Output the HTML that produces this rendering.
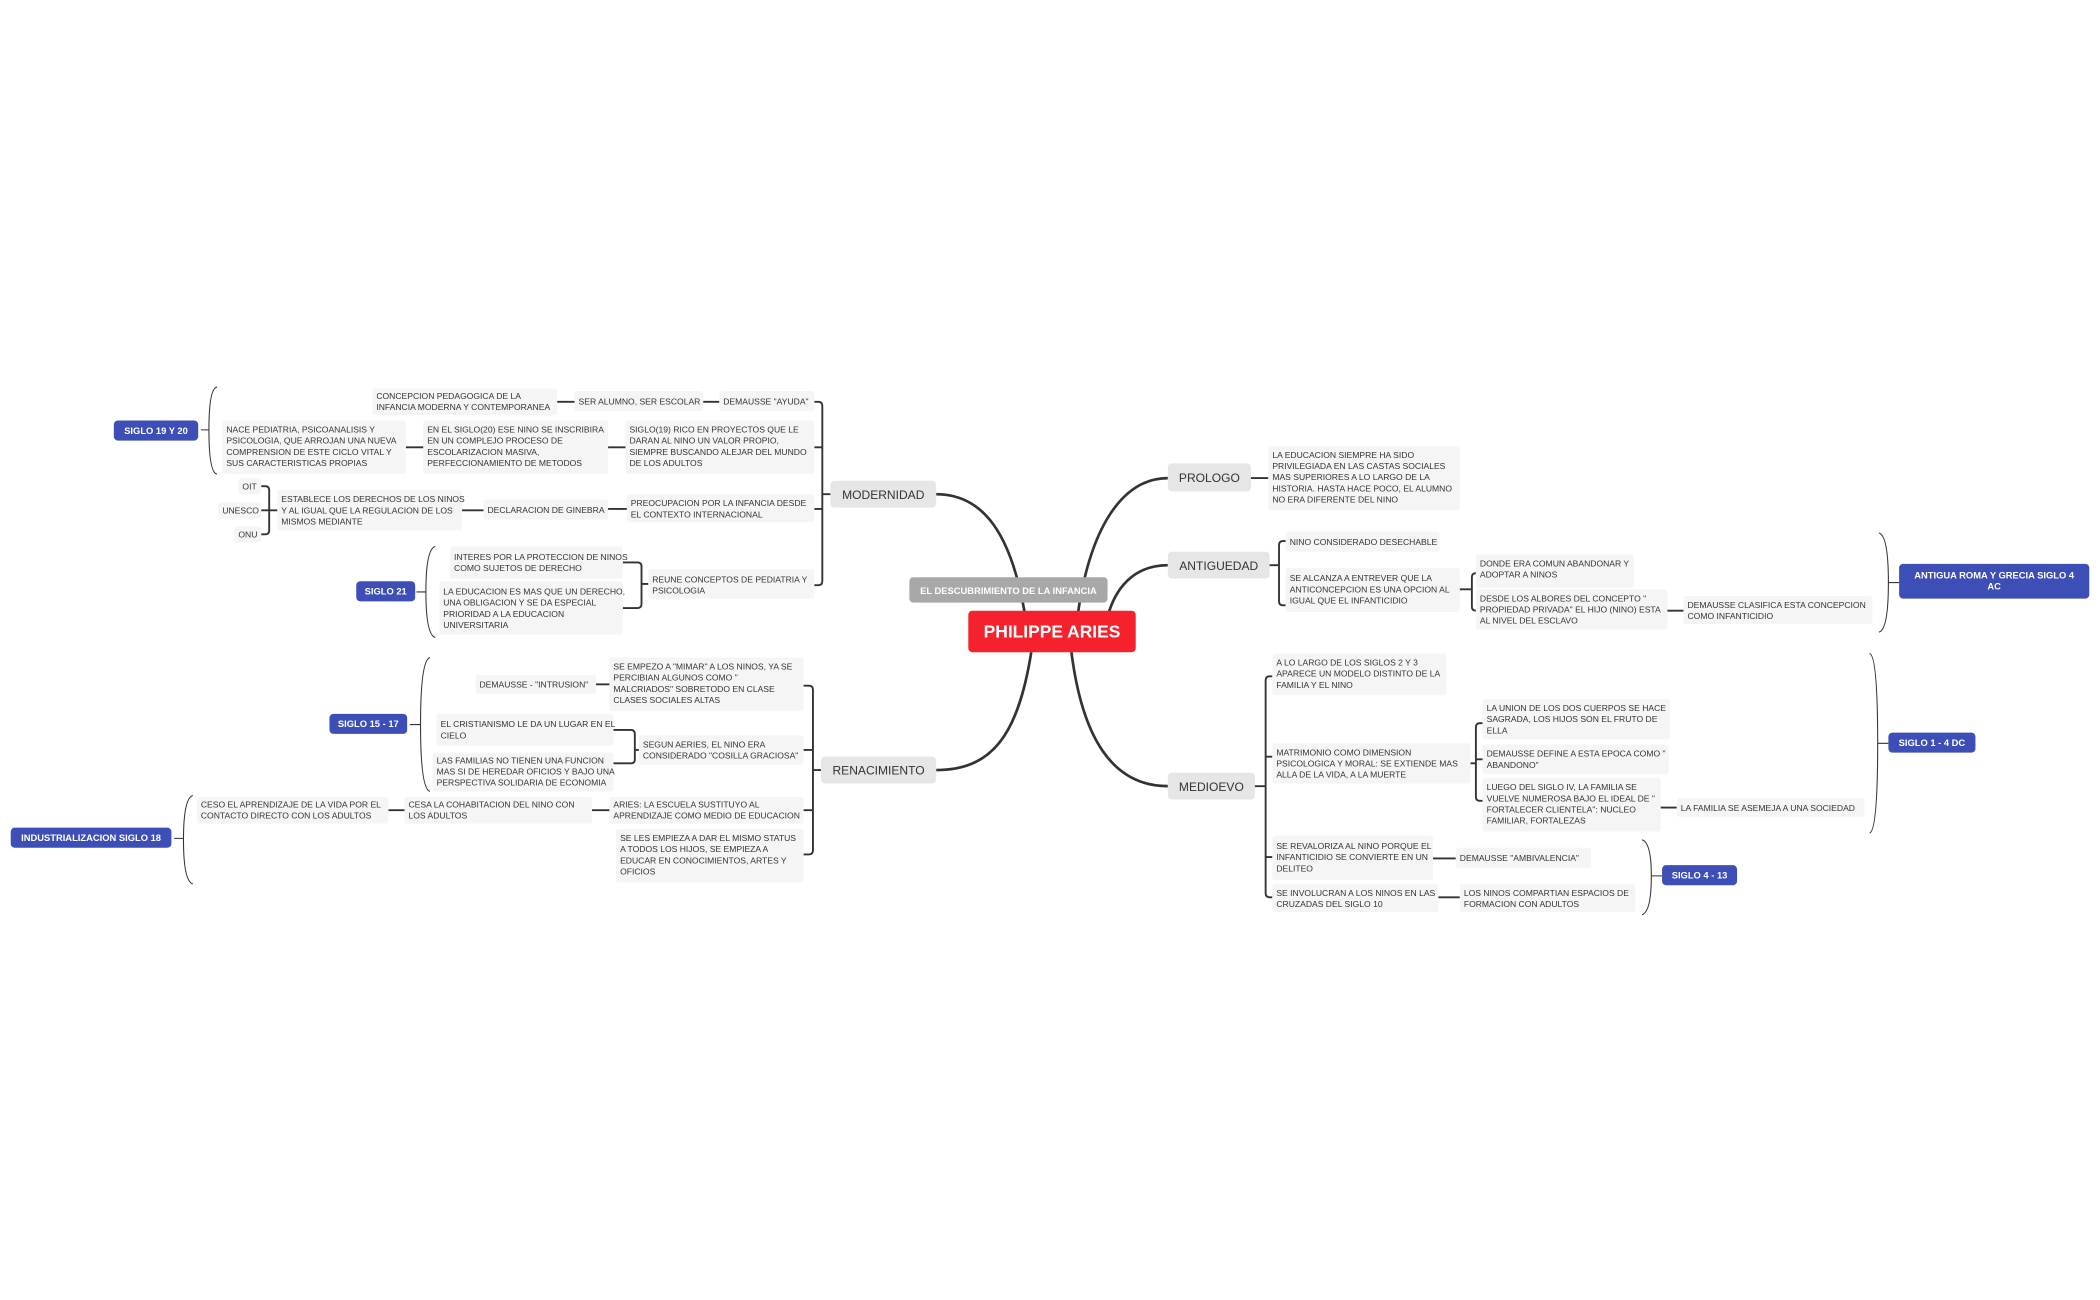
<!DOCTYPE html>
<html><head><meta charset="utf-8"><style>
html,body{margin:0;padding:0;background:#fff;width:2100px;height:1300px;overflow:hidden}
svg{display:block}
text{font-family:"Liberation Sans Narrow","Liberation Sans",sans-serif}
.l{font-size:6.4px;fill:#333}
.b{font-size:9px;fill:#333}
.w{font-size:7px;fill:#fff;font-weight:bold}
.lf{fill:#f5f5f5}
.br{fill:#e6e6e6}
.bl{fill:#3d4fb7}
.c{fill:none;stroke:#333;stroke-width:1.4}
.m{fill:none;stroke:#333;stroke-width:2}
.t{fill:none;stroke:#333;stroke-width:0.8}
</style></head><body>
<svg width="2100" height="1300" viewBox="0 0 1568 970.7" preserveAspectRatio="none">
<!-- main curves -->
<path class="m" d="M765,457 C755,400 735,369 699,369"/>
<path class="m" d="M770,487 C760,550 740,575 699,575"/>
<path class="m" d="M805,457 C815,390 840,357 872,357"/>
<path class="m" d="M828,457 C835,435 850,422 872,422"/>
<path class="m" d="M800,487 C808,550 830,587 872,587"/>

<!-- center -->
<rect x="679" y="431" width="148" height="19" rx="3" fill="#a8a8a8"/>
<text x="753" y="443.5" class="w" text-anchor="middle">EL DESCUBRIMIENTO DE LA INFANCIA</text>
<rect x="723" y="456" width="125" height="31" rx="3" fill="#f5222d"/>
<text x="785.5" y="476" text-anchor="middle" style="font-size:13px;font-weight:bold;fill:#fff">PHILIPPE ARIES</text>

<!-- main branches -->
<rect class="br" x="620" y="359" width="79" height="20" rx="3"/><text class="b" x="659.5" y="372.5" text-anchor="middle">MODERNIDAD</text>
<rect class="br" x="613" y="565" width="86" height="20" rx="3"/><text class="b" x="656" y="578.5" text-anchor="middle">RENACIMIENTO</text>
<rect class="br" x="872" y="346" width="62" height="21" rx="3"/><text class="b" x="903" y="360" text-anchor="middle">PROLOGO</text>
<rect class="br" x="872" y="412" width="76" height="20" rx="3"/><text class="b" x="910" y="425.5" text-anchor="middle">ANTIGUEDAD</text>
<rect class="br" x="872" y="577" width="65" height="20" rx="3"/><text class="b" x="904.5" y="590.5" text-anchor="middle">MEDIOEVO</text>

<!-- MODERNIDAD tree -->
<path class="c" d="M620,369 H614 M608,300 H611 Q614,300 614,303 V434 Q614,437 611,437 H608 M608,334 H614 M608,380 H614"/>
<rect class="lf" x="537" y="292" width="71" height="15" rx="2"/><text class="l" x="540" y="302">DEMAUSSE "AYUDA"</text>
<path class="c" d="M525,300 H537"/>
<rect class="lf" x="429" y="292" width="96" height="15" rx="2"/><text class="l" x="432" y="302">SER ALUMNO, SER ESCOLAR</text>
<path class="c" d="M416,300 H429"/>
<rect class="lf" x="278" y="290" width="138" height="20" rx="2"/><text class="l" x="281" y="298">CONCEPCION PEDAGOGICA DE LA<tspan x="281" dy="8.3">INFANCIA MODERNA Y CONTEMPORANEA</tspan></text>

<rect class="lf" x="467" y="314" width="141" height="40" rx="2"/><text class="l" x="470" y="323">SIGLO(19) RICO EN PROYECTOS QUE LE<tspan x="470" dy="8.3">DARAN AL NINO UN VALOR PROPIO,</tspan><tspan x="470" dy="8.3">SIEMPRE BUSCANDO ALEJAR DEL MUNDO</tspan><tspan x="470" dy="8.3">DE LOS ADULTOS</tspan></text>
<path class="c" d="M454,334 H467"/>
<rect class="lf" x="316" y="314" width="138" height="40" rx="2"/><text class="l" x="319" y="323">EN EL SIGLO(20) ESE NINO SE INSCRIBIRA<tspan x="319" dy="8.3">EN UN COMPLEJO PROCESO DE</tspan><tspan x="319" dy="8.3">ESCOLARIZACION MASIVA,</tspan><tspan x="319" dy="8.3">PERFECCIONAMIENTO DE METODOS</tspan></text>
<path class="c" d="M303,334 H316"/>
<rect class="lf" x="166" y="314" width="137" height="40" rx="2"/><text class="l" x="169" y="323">NACE PEDIATRIA, PSICOANALISIS Y<tspan x="169" dy="8.3">PSICOLOGIA, QUE ARROJAN UNA NUEVA</tspan><tspan x="169" dy="8.3">COMPRENSION DE ESTE CICLO VITAL Y</tspan><tspan x="169" dy="8.3">SUS CARACTERISTICAS PROPIAS</tspan></text>
<path class="t" d="M162,289 Q156,290 156,321 Q156,353 162,354 M150,321 H156"/>
<rect class="bl" x="85" y="314" width="63" height="15" rx="3"/><text class="w" x="116.5" y="324" text-anchor="middle">SIGLO 19 Y 20</text>

<rect class="lf" x="468" y="369" width="140" height="21" rx="2"/><text class="l" x="471" y="378">PREOCUPACION POR LA INFANCIA DESDE<tspan x="471" dy="8.3">EL CONTEXTO INTERNACIONAL</tspan></text>
<path class="c" d="M454,380 H468"/>
<rect class="lf" x="361" y="373" width="93" height="15" rx="2"/><text class="l" x="364" y="383">DECLARACION DE GINEBRA</text>
<path class="c" d="M345,381 H361"/>
<rect class="lf" x="207" y="366" width="138" height="30" rx="2"/><text class="l" x="210" y="375">ESTABLECE LOS DERECHOS DE LOS NINOS<tspan x="210" dy="8.3">Y AL IGUAL QUE LA REGULACION DE LOS</tspan><tspan x="210" dy="8.3">MISMOS MEDIANTE</tspan></text>
<path class="c" d="M207,381 H201 M195,363 H198 Q201,363 201,366 V396 Q201,399 198,399 H195 M195,381 H201"/>
<rect class="lf" x="178" y="357" width="17" height="12" rx="2"/><text class="l" x="181" y="365.5">OIT</text>
<rect class="lf" x="163" y="375" width="32" height="12" rx="2"/><text class="l" x="166" y="383.5">UNESCO</text>
<rect class="lf" x="175" y="393" width="20" height="12" rx="2"/><text class="l" x="178" y="401.5">ONU</text>

<rect class="lf" x="484" y="425" width="124" height="22" rx="2"/><text class="l" x="487" y="435">REUNE CONCEPTOS DE PEDIATRIA Y<tspan x="487" dy="8.3">PSICOLOGIA</tspan></text>
<path class="c" d="M484,436 H479 M465,420 H476 Q479,420 479,423 V451 Q479,454 476,454 H465"/>
<rect class="lf" x="336" y="408" width="129" height="24" rx="2"/><text class="l" x="339" y="418">INTERES POR LA PROTECCION DE NINOS<tspan x="339" dy="8.3">COMO SUJETOS DE DERECHO</tspan></text>
<rect class="lf" x="328" y="434" width="137" height="40" rx="2"/><text class="l" x="331" y="444">LA EDUCACION ES MAS QUE UN DERECHO,<tspan x="331" dy="8.3">UNA OBLIGACION Y SE DA ESPECIAL</tspan><tspan x="331" dy="8.3">PRIORIDAD A LA EDUCACION</tspan><tspan x="331" dy="8.3">UNIVERSITARIA</tspan></text>
<path class="t" d="M325,408 Q318,410 318,442 Q318,474 325,476 M311,442 H318"/>
<rect class="bl" x="266" y="434" width="44" height="15" rx="3"/><text class="w" x="288" y="444" text-anchor="middle">SIGLO 21</text>

<!-- RENACIMIENTO tree -->
<path class="c" d="M613,575 H607 M600,512 H604 Q607,512 607,515 V635 Q607,638 604,638 H600 M600,560 H607 M600,605 H607"/>
<rect class="lf" x="455" y="491" width="145" height="40" rx="2"/><text class="l" x="458" y="500">SE EMPEZO A "MIMAR" A LOS NINOS, YA SE<tspan x="458" dy="8.3">PERCIBIAN ALGUNOS COMO "</tspan><tspan x="458" dy="8.3">MALCRIADOS" SOBRETODO EN CLASE</tspan><tspan x="458" dy="8.3">CLASES SOCIALES ALTAS</tspan></text>
<path class="c" d="M445,511 H455"/>
<rect class="lf" x="355" y="504" width="90" height="14" rx="2"/><text class="l" x="358" y="513.5">DEMAUSSE - "INTRUSION"</text>
<rect class="lf" x="477" y="549" width="123" height="22" rx="2"/><text class="l" x="480" y="558">SEGUN AERIES, EL NINO ERA<tspan x="480" dy="8.3">CONSIDERADO "COSILLA GRACIOSA"</tspan></text>
<path class="c" d="M477,560 H474 M458,545 H471 Q474,545 474,548 V567 Q474,570 471,570 H458"/>
<rect class="lf" x="326" y="533" width="132" height="24" rx="2"/><text class="l" x="329" y="543">EL CRISTIANISMO LE DA UN LUGAR EN EL<tspan x="329" dy="8.3">CIELO</tspan></text>
<rect class="lf" x="323" y="562" width="135" height="29" rx="2"/><text class="l" x="326" y="570">LAS FAMILIAS NO TIENEN UNA FUNCION<tspan x="326" dy="8.3">MAS SI DE HEREDAR OFICIOS Y BAJO UNA</tspan><tspan x="326" dy="8.3">PERSPECTIVA SOLIDARIA DE ECONOMIA</tspan></text>
<path class="t" d="M321,491 Q314,493 314,541 Q314,589 321,591 M306,541 H314"/>
<rect class="bl" x="246" y="533" width="58" height="15" rx="3"/><text class="w" x="275" y="543" text-anchor="middle">SIGLO 15 - 17</text>
<rect class="lf" x="455" y="595" width="145" height="20" rx="2"/><text class="l" x="458" y="603">ARIES: LA ESCUELA SUSTITUYO AL<tspan x="458" dy="8.3">APRENDIZAJE COMO MEDIO DE EDUCACION</tspan></text>
<path class="c" d="M442,605 H455"/>
<rect class="lf" x="302" y="595" width="140" height="20" rx="2"/><text class="l" x="305" y="603">CESA LA COHABITACION DEL NINO CON<tspan x="305" dy="8.3">LOS ADULTOS</tspan></text>
<path class="c" d="M290,605 H302"/>
<rect class="lf" x="147" y="595" width="143" height="20" rx="2"/><text class="l" x="150" y="603">CESO EL APRENDIZAJE DE LA VIDA POR EL<tspan x="150" dy="8.3">CONTACTO DIRECTO CON LOS ADULTOS</tspan></text>
<path class="t" d="M144,594 Q137,596 137,627 Q137,658 144,660 M130,626 H137"/>
<rect class="bl" x="8" y="618" width="120" height="15" rx="3"/><text class="w" x="68" y="628" text-anchor="middle">INDUSTRIALIZACION SIGLO 18</text>
<rect class="lf" x="460" y="619" width="140" height="40" rx="2"/><text class="l" x="463" y="628">SE LES EMPIEZA A DAR EL MISMO STATUS<tspan x="463" dy="8.3">A TODOS LOS HIJOS, SE EMPIEZA A</tspan><tspan x="463" dy="8.3">EDUCAR EN CONOCIMIENTOS, ARTES Y</tspan><tspan x="463" dy="8.3">OFICIOS</tspan></text>

<!-- PROLOGO -->
<path class="c" d="M934,357 H947"/>
<rect class="lf" x="947" y="333" width="143" height="48" rx="2"/><text class="l" x="950" y="342">LA EDUCACION SIEMPRE HA SIDO<tspan x="950" dy="8.3">PRIVILEGIADA EN LAS CASTAS SOCIALES</tspan><tspan x="950" dy="8.3">MAS SUPERIORES A LO LARGO DE LA</tspan><tspan x="950" dy="8.3">HISTORIA. HASTA HACE POCO, EL ALUMNO</tspan><tspan x="950" dy="8.3">NO ERA DIFERENTE DEL NINO</tspan></text>

<!-- ANTIGUEDAD -->
<path class="c" d="M948,422 H955 M960,404 H958 Q955,404 955,407 V449 Q955,452 958,452 H960"/>
<rect class="lf" x="960" y="397" width="115" height="15" rx="2"/><text class="l" x="963" y="407">NINO CONSIDERADO DESECHABLE</text>
<rect class="lf" x="960" y="424" width="130" height="33" rx="2"/><text class="l" x="963" y="434">SE ALCANZA A ENTREVER QUE LA<tspan x="963" dy="8.3">ANTICONCEPCION ES UNA OPCION AL</tspan><tspan x="963" dy="8.3">IGUAL QUE EL INFANTICIDIO</tspan></text>
<path class="c" d="M1090,440 H1099 M1102,428 Q1099,428 1099,431 V453 Q1099,456 1102,456"/>
<rect class="lf" x="1102" y="414" width="118" height="25" rx="2"/><text class="l" x="1105" y="423">DONDE ERA COMUN ABANDONAR Y<tspan x="1105" dy="8.3">ADOPTAR A NINOS</tspan></text>
<rect class="lf" x="1102" y="440" width="143" height="30" rx="2"/><text class="l" x="1105" y="449">DESDE LOS ALBORES DEL CONCEPTO "<tspan x="1105" dy="8.3">PROPIEDAD PRIVADA" EL HIJO (NINO) ESTA</tspan><tspan x="1105" dy="8.3">AL NIVEL DEL ESCLAVO</tspan></text>
<path class="c" d="M1245,456 H1257"/>
<rect class="lf" x="1257" y="445" width="141" height="21" rx="2"/><text class="l" x="1260" y="454">DEMAUSSE CLASIFICA ESTA CONCEPCION<tspan x="1260" dy="8.3">COMO INFANTICIDIO</tspan></text>
<path class="t" d="M1403,398 Q1410,400 1410,435 Q1410,470 1403,472 M1410,435 H1418"/>
<rect class="bl" x="1418" y="421" width="142" height="26" rx="3"/><text class="w" x="1489" y="432" text-anchor="middle">ANTIGUA ROMA Y GRECIA SIGLO 4<tspan x="1489" dy="8.3">AC</tspan></text>

<!-- MEDIOEVO -->
<path class="c" d="M937,587 H945 M950,505 H948 Q945,505 945,508 V667 Q945,670 948,670 H950 M945,565 H950 M945,640 H950"/>
<rect class="lf" x="950" y="488" width="130" height="31" rx="2"/><text class="l" x="953" y="497">A LO LARGO DE LOS SIGLOS 2 Y 3<tspan x="953" dy="8.3">APARECE UN MODELO DISTINTO DE LA</tspan><tspan x="953" dy="8.3">FAMILIA Y EL NINO</tspan></text>
<rect class="lf" x="950" y="555" width="148" height="30" rx="2"/><text class="l" x="953" y="564">MATRIMONIO COMO DIMENSION<tspan x="953" dy="8.3">PSICOLOGICA Y MORAL: SE EXTIENDE MAS</tspan><tspan x="953" dy="8.3">ALLA DE LA VIDA, A LA MUERTE</tspan></text>
<path class="c" d="M1098,570 H1102 M1107,540 H1105 Q1102,540 1102,543 V595 Q1102,598 1105,598 H1107 M1102,567 H1107"/>
<rect class="lf" x="1107" y="522" width="140" height="30" rx="2"/><text class="l" x="1110" y="531">LA UNION DE LOS DOS CUERPOS SE HACE<tspan x="1110" dy="8.3">SAGRADA, LOS HIJOS SON EL FRUTO DE</tspan><tspan x="1110" dy="8.3">ELLA</tspan></text>
<rect class="lf" x="1107" y="556" width="139" height="22" rx="2"/><text class="l" x="1110" y="565">DEMAUSSE DEFINE A ESTA EPOCA COMO "<tspan x="1110" dy="8.3">ABANDONO"</tspan></text>
<rect class="lf" x="1107" y="581" width="133" height="40" rx="2"/><text class="l" x="1110" y="590">LUEGO DEL SIGLO IV, LA FAMILIA SE<tspan x="1110" dy="8.3">VUELVE NUMEROSA BAJO EL IDEAL DE "</tspan><tspan x="1110" dy="8.3">FORTALECER CLIENTELA": NUCLEO</tspan><tspan x="1110" dy="8.3">FAMILIAR, FORTALEZAS</tspan></text>
<path class="c" d="M1240,603 H1252"/>
<rect class="lf" x="1252" y="596" width="140" height="14" rx="2"/><text class="l" x="1255" y="605.5">LA FAMILIA SE ASEMEJA A UNA SOCIEDAD</text>
<path class="t" d="M1396,488 Q1402,490 1402,555 Q1402,620 1396,622 M1402,555 H1410"/>
<rect class="bl" x="1410" y="547" width="65" height="15" rx="3"/><text class="w" x="1442.5" y="557" text-anchor="middle">SIGLO 1 - 4 DC</text>
<rect class="lf" x="950" y="624" width="120" height="33" rx="2"/><text class="l" x="953" y="634">SE REVALORIZA AL NINO PORQUE EL<tspan x="953" dy="8.3">INFANTICIDIO SE CONVIERTE EN UN</tspan><tspan x="953" dy="8.3">DELITEO</tspan></text>
<path class="c" d="M1070,641 H1087"/>
<rect class="lf" x="1087" y="633" width="101" height="15" rx="2"/><text class="l" x="1090" y="643">DEMAUSSE "AMBIVALENCIA"</text>
<rect class="lf" x="950" y="660" width="124" height="21" rx="2"/><text class="l" x="953" y="669">SE INVOLUCRAN A LOS NINOS EN LAS<tspan x="953" dy="8.3">CRUZADAS DEL SIGLO 10</tspan></text>
<path class="c" d="M1074,670 H1090"/>
<rect class="lf" x="1090" y="660" width="131" height="21" rx="2"/><text class="l" x="1093" y="669">LOS NINOS COMPARTIAN ESPACIOS DE<tspan x="1093" dy="8.3">FORMACION CON ADULTOS</tspan></text>
<path class="t" d="M1226,627 Q1233,629 1233,654 Q1233,681 1226,683 M1233,654 H1241"/>
<rect class="bl" x="1241" y="646" width="56" height="15" rx="3"/><text class="w" x="1269" y="656" text-anchor="middle">SIGLO 4 - 13</text>
</svg>
</body></html>
